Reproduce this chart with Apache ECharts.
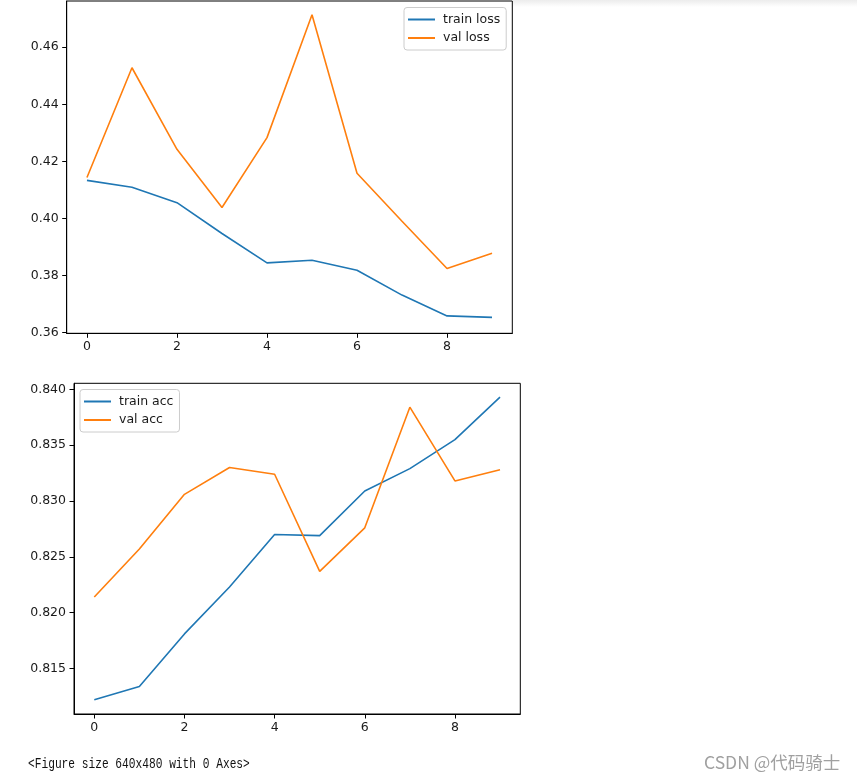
<!DOCTYPE html>
<html>
<head>
<meta charset="utf-8">
<script src="https://cdn.jsdelivr.net/npm/echarts@6/dist/echarts.min.js"></script>
<style>
html,body{margin:0;padding:0;background:#fff;}
#main{width:857px;height:780px;}
</style>
</head>
<body>
<div id="main"></div>
<script>
const epochs = [0,1,2,3,4,5,6,7,8,9];
const trainLoss = [0.4133,0.4109,0.4055,0.3947,0.3844,0.3853,0.3818,0.3731,0.3658,0.3653];
const valLoss   = [0.4143,0.4528,0.4242,0.4038,0.4283,0.4714,0.4158,0.3990,0.3824,0.3878];
const trainAcc  = [0.8122,0.8134,0.8181,0.8223,0.8270,0.8269,0.8309,0.8329,0.8355,0.8393];
const valAcc    = [0.8214,0.8257,0.8306,0.8330,0.8324,0.8237,0.8276,0.8384,0.8318,0.8328];
const xTicks = [0,2,4,6,8];
const lossTicks = [0.36,0.38,0.40,0.42,0.44,0.46];
const accTicks = [0.815,0.820,0.825,0.830,0.835,0.840];

const C1 = '#1f77b4', C2 = '#ff7f0e';
const pairs = arr => epochs.map((e,i)=>[e,arr[i]]);

function xAxisCfg(gi){
  return {
    type:'value', gridIndex:gi, min:-0.45, max:9.45,
    axisLine:{show:true,onZero:false,lineStyle:{color:'#000',width:1}},
    axisTick:{show:true,inside:false,length:4.5,lineStyle:{color:'#000'},customValues:xTicks},
    axisLabel:{show:true,margin:7,color:'#1a1a1a',fontSize:12.5,fontFamily:'DejaVu Sans',customValues:xTicks,formatter:v=>String(Math.round(v))},
    splitLine:{show:false}
  };
}
function yAxisCfg(gi,min,max,ticks,dec){
  return {
    type:'value', gridIndex:gi, min:min, max:max,
    axisLine:{show:true,onZero:false,lineStyle:{color:'#000',width:1}},
    axisTick:{show:true,inside:false,length:4.5,lineStyle:{color:'#000'},customValues:ticks},
    axisLabel:{show:true,margin:8,color:'#1a1a1a',fontSize:12.5,fontFamily:'DejaVu Sans',customValues:ticks,formatter:v=>v.toFixed(dec)},
    splitLine:{show:false}
  };
}
function lineSeries(name,data,color,xi,yi){
  return {name:name,type:'line',xAxisIndex:xi,yAxisIndex:yi,data:pairs(data),
    symbol:'none',showSymbol:false,lineStyle:{color:color,width:1.6},itemStyle:{color:color},
    emphasis:{disabled:true},animation:false};
}
function legendCfg(left,top,names){
  return {
    orient:'vertical', left:left, top:top, data:names.map(n=>({name:n,icon:'rect'})),
    itemWidth:27, itemHeight:2, itemGap:4.5,
    padding:[5,6,5,4],
    backgroundColor:'rgba(255,255,255,0.8)', borderColor:'#cccccc', borderWidth:1, borderRadius:3,
    textStyle:{fontSize:12.5,fontFamily:'DejaVu Sans',color:'#1a1a1a',lineHeight:14,padding:[0,0,0,3]},
    selectedMode:false
  };
}

const chart = echarts.init(document.getElementById('main'),null,{renderer:'canvas'});
chart.setOption({
  animation:false,
  backgroundColor:'#fff',
  grid:[
    {left:66.7,top:1,width:445.6,height:332.3,show:true,borderColor:'#000',borderWidth:1,containLabel:false},
    {left:74,top:383.3,width:446.3,height:330.7,show:true,borderColor:'#000',borderWidth:1,containLabel:false}
  ],
  xAxis:[xAxisCfg(0),xAxisCfg(1)],
  yAxis:[yAxisCfg(0,0.3597,0.4762,lossTicks,2),yAxisCfg(1,0.81093,0.84054,accTicks,3)],
  legend:[legendCfg(404,7.5,['train loss','val loss']),legendCfg(80,389.5,['train acc','val acc'])],
  series:[
    lineSeries('train loss',trainLoss,C1,0,0),
    lineSeries('val loss',valLoss,C2,0,0),
    lineSeries('train acc',trainAcc,C1,1,1),
    lineSeries('val acc',valAcc,C2,1,1)
  ],
  graphic:[
    {type:'rect',left:513,top:0,shape:{width:344,height:7},silent:true,z:-1,
      style:{fill:new echarts.graphic.LinearGradient(0,0,0,1,[{offset:0,color:'#ececec'},{offset:1,color:'#ffffff'}])}},
    {type:'text',left:28,top:757,scaleX:0.8,silent:true,
      style:{text:'<Figure size 640x480 with 0 Axes>',font:'14px "Liberation Mono"',fill:'#111'}},
    {type:'text',left:704,top:754,silent:true,
      style:{text:'CSDN @代码骑士',font:'17.5px "Noto Sans CJK SC"',fill:'#a0a0a0'}}
  ]
});
</script>
</body>
</html>
